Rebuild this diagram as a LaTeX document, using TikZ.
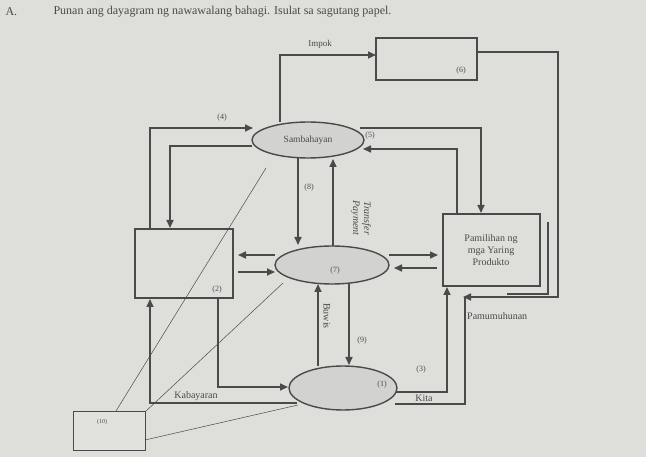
\documentclass[tikz,border=0pt]{standalone}
\usepackage{fontspec}
\setmainfont{Liberation Serif}
\usetikzlibrary{arrows.meta}
\definecolor{bg}{HTML}{DEDEDA}
\definecolor{ln}{HTML}{4A4A4A}
\definecolor{ef}{HTML}{D2D2D0}
\begin{document}
\begin{tikzpicture}[x=1pt,y=-1pt,
  flow/.style={draw=ln,line width=1.6pt,-{Triangle[length=8pt,width=7pt]}},
  plain/.style={draw=ln,line width=1.6pt},
  thin/.style={draw=ln,line width=0.5pt},
  lbl/.style={font=\fontsize{8}{9}\selectfont,text=ln,inner sep=1pt}]
\useasboundingbox[fill=bg] (0,0) rectangle (646,457);
\node[anchor=west,font=\fontsize{12}{13}\selectfont,text=ln] (tA) at (2,12) {A.};
\node[anchor=west,font=\fontsize{12}{13}\selectfont,text=ln] (title) at (50,12) {Punan ang dayagram ng nawawalang bahagi. Isulat sa sagutang papel.};
% boxes
\draw[ln,line width=1.4pt] (376,38) rectangle (477,80);
\coordinate (b6w) at (376,55); \coordinate (b6e) at (477,52);
\node[lbl] (l6) at (461,71) {(6)};
\node[lbl,font=\fontsize{9}{10}\selectfont] (impok) at (320,44) {Impok};
\draw[ln,line width=1.4pt] (135,229) rectangle (233,298);
\node[lbl] (l2) at (217,290) {(2)};
\draw[ln,line width=1.4pt] (507,294) -- (548,294) -- (548,222);
\draw[ln,line width=1.4pt,fill=bg] (443,214) rectangle (540,286);
\node[lbl,align=center,font=\fontsize{10}{12}\selectfont] (pam) at (491,250) {Pamilihan ng\\mga Yaring\\Produkto};
\draw[ln,line width=0.6pt,fill=bg!90!white] (73,411) rectangle (145,450);
\node[lbl,font=\fontsize{6}{7}\selectfont] (l10) at (102,422) {(10)};
% ellipses
\draw[ln,line width=1.4pt,fill=ef] (308,140) ellipse [x radius=56,y radius=18];
\node[lbl,font=\fontsize{9.5}{10}\selectfont] (samb) at (308,140) {Sambahayan};
\draw[ln,line width=1.4pt,fill=ef] (332,265) ellipse [x radius=57,y radius=19];
\node[lbl] (l7) at (335,271) {(7)};
\draw[ln,line width=1.4pt,fill=ef] (343,388) ellipse [x radius=54,y radius=22];
\node[lbl] (l1) at (382,385) {(1)};
% thin lines
\draw[thin] (116,411) -- (266,168);
\draw[thin] (145,412) -- (283,283);
\draw[thin] (145,440) -- (298,405);
% flows
\draw[flow] (280,122) -- (280,55) -- (b6w);
\draw[flow] (150,229) -- (150,128) -- (253,128);
\node[lbl] (l4) at (222,118) {(4)};
\draw[flow] (252,146) -- (170,146) -- (170,228);
\draw[flow] (360,128) -- (481,128) -- (481,213);
\node[lbl] (l5) at (370,136) {(5)};
\draw[flow] (457,214) -- (457,149) -- (363,149);
\draw[flow] (298,158) -- (298,245);
\node[lbl] (l8) at (309,188) {(8)};
\draw[flow] (333,246) -- (333,159);
\node[lbl,rotate=-90,align=center,font=\fontsize{10}{11}\selectfont\itshape] (tp) at (361,218) {Transfer\\Payment};
\draw[flow] (275,255) -- (238,255);
\draw[flow] (238,272) -- (275,272);
\draw[flow] (389,255) -- (438,255);
\draw[flow] (437,268) -- (394,268);
\draw[flow] (318,366) -- (318,284);
\node[lbl,rotate=-90,font=\fontsize{10}{11}\selectfont] (buwis) at (327,316) {Buwis};
\draw[flow] (349,284) -- (349,365);
\node[lbl] (l9) at (362,341) {(9)};
\draw[flow] (218,298) -- (218,387) -- (288,387);
\draw[flow] (297,403) -- (150,403) -- (150,299);
\node[lbl,font=\fontsize{10}{11}\selectfont] (kab) at (196,396) {Kabayaran};
\draw[flow] (396,392) -- (447,392) -- (447,287);
\node[lbl] (l3) at (421,370) {(3)};
\node[lbl,font=\fontsize{10}{11}\selectfont] (kita) at (424,398) {Kita};
\draw[flow] (b6e) -- (558,52) -- (558,297) -- (463,297);
\draw[plain] (465,297) -- (465,404) -- (395,404);
\node[lbl,font=\fontsize{10}{11}\selectfont,anchor=west] (pamu) at (466,316) {Pamumuhunan};
\end{tikzpicture}
\end{document}
